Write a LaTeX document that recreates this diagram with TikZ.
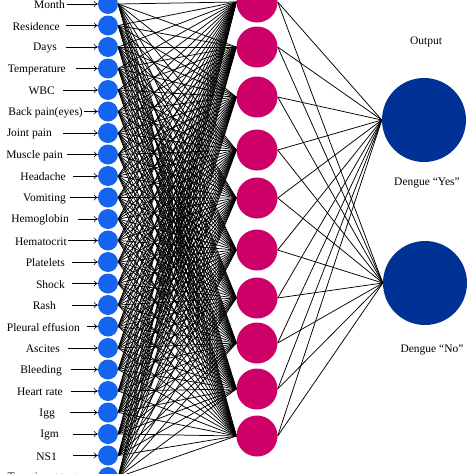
\documentclass[tikz,border=0pt]{standalone}
\usepackage{fontspec}
\setmainfont{Liberation Serif}
\usetikzlibrary{arrows.meta,backgrounds}

\definecolor{ccinput}{RGB}{20,100,240}
\definecolor{cchidden}{RGB}{204,0,102}
\definecolor{ccoutput}{RGB}{0,50,150}

\begin{document}
\begin{tikzpicture}[x=1pt, y=-1pt, font=\fontsize{11.5}{13}\selectfont,
  >={To[length=4pt, width=6pt]},
  inp/.style={circle, fill=ccinput, minimum size=20pt, inner sep=0pt},
  hid/.style={circle, fill=cchidden, minimum size=41pt, inner sep=0pt},
  outp/.style={circle, fill=ccoutput, minimum size=84pt, inner sep=0pt},
  lab/.style={anchor=east, inner sep=0pt},
  wire/.style={line width=0.75pt, black}]

  \useasboundingbox (0,0) rectangle (474,474);
  \clip (0,0) rectangle (474,474);

  % Inputs
  \foreach \i/\txt/\tx/\ax in {1/Month/65/67, 2/Residence/60/66, 3/Days/57/66,
      4/Temperature/66/76, 5/WBC/55/63, 6/{Back pain(eyes)}/83/84,
      7/Joint pain/52/63, 8/Muscle pain/63/67, 9/Headache/66/73,
      10/Vomiting/66/70, 11/Hemoglobin/69/78, 12/Hematocrit/67/68,
      13/Platelets/65/72, 14/Shock/65/72, 15/Rash/56/72,
      16/Pleural effusion/80/87, 17/Ascites/60/68, 18/Bleeding/62/71,
      19/Heart rate/63/71, 20/Igg/55/70, 21/Igm/59/73, 22/NS1/57/73,
      23/Tourniquet test/77/84} {
    \node[inp] (in\i) at (108, {4+21.5*(\i-1)}) {};
    \node[lab] (lab\i) at (\tx, {5+21.5*(\i-1)}) {\txt};
    \coordinate (a\i) at (\ax, {4+21.5*(\i-1)});
    \draw[->, line width=0.6pt] (a\i) -- (in\i);
  }

  % Hidden layer
  \foreach \j/\y in {1/2, 2/47, 3/97, 4/150, 5/198, 6/250, 7/298, 8/343, 9/389, 10/436}
    \node[hid] (h\j) at (257,\y) {};

  % Output layer
  \node[outp] (yes) at (424,120) {};
  \node[outp] (no) at (425,283) {};
  \node (outlab) at (426,42) {Output};
  \node (yeslab) at (427,183) {Dengue “Yes”};
  \node (nolab) at (432,350) {Dengue “No”};

  % Weights
  \begin{pgfonlayer}{background}
    \foreach \i in {1,...,23}
      \foreach \j in {1,...,10}
        \draw[wire] (in\i.east) -- (h\j.west);
    \foreach \j in {1,...,10} {
      \draw[wire] (h\j.east) -- (yes.west);
      \draw[wire] (h\j.east) -- (no.west);
    }
  \end{pgfonlayer}

\end{tikzpicture}
\end{document}
